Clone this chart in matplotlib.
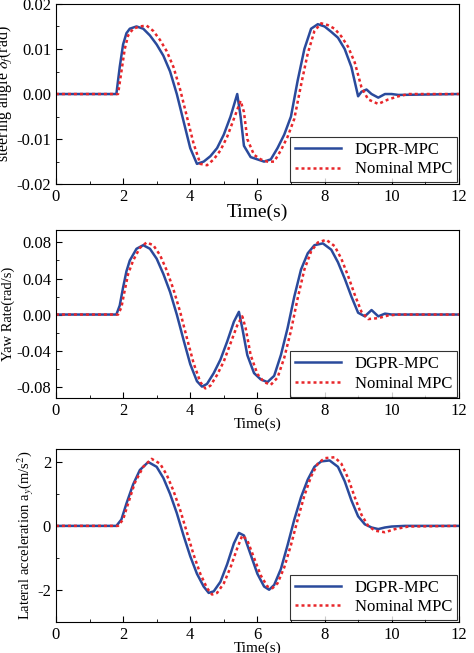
import matplotlib
matplotlib.use("Agg")
import matplotlib.pyplot as plt
from matplotlib.ticker import MultipleLocator

plt.rcParams['font.family'] = ['Liberation Serif', 'DejaVu Serif']
plt.rcParams['mathtext.fontset'] = 'stix'

BLUE = "#2a4a9c"
RED = "#e8262a"

# steering angle (rad)
t1_d = [0, 1.8, 1.9, 2.0, 2.1, 2.2, 2.4, 2.6, 2.8, 3.0, 3.2, 3.4, 3.6, 3.8, 4.0, 4.2, 4.4, 4.6, 4.8, 5.0,
        5.2, 5.4, 5.5, 5.6, 5.8, 6.0, 6.2, 6.4, 6.6, 6.8, 7.0, 7.2, 7.4, 7.6, 7.8, 8.0, 8.2, 8.4, 8.6,
        8.8, 9.0, 9.1, 9.25, 9.4, 9.6, 9.8, 10.0, 10.2, 12]
s_d = [0, 0, 0.006, 0.011, 0.0135, 0.0145, 0.015, 0.0145, 0.013, 0.011, 0.0085, 0.005, 0.0, -0.006,
       -0.012, -0.0155, -0.015, -0.0138, -0.012, -0.009, -0.005, 0.0, -0.005, -0.0115, -0.014, -0.0145,
       -0.015, -0.0145, -0.012, -0.009, -0.005, 0.003, 0.010, 0.0145, 0.0155, 0.015, 0.0138, 0.0125,
       0.010, 0.006, -0.0005, 0.0005, 0.001, 0.0, -0.0008, 0.0, 0.0, -0.0002, 0]
t1_n = [0, 1.85, 1.95, 2.05, 2.15, 2.3, 2.5, 2.7, 2.9, 3.1, 3.3, 3.5, 3.7, 3.9, 4.1, 4.3, 4.5, 4.7, 4.9,
        5.1, 5.3, 5.5, 5.6, 5.7, 5.9, 6.1, 6.3, 6.5, 6.7, 6.9, 7.1, 7.3, 7.5, 7.7, 7.9, 8.1, 8.3, 8.5,
        8.7, 8.9, 9.1, 9.3, 9.6, 9.9, 10.2, 10.5, 12]
s_n = [0, 0, 0.005, 0.010, 0.013, 0.0145, 0.015, 0.0152, 0.014, 0.012, 0.0095, 0.006, 0.001, -0.005,
       -0.011, -0.0155, -0.0158, -0.0145, -0.0125, -0.0095, -0.0055, -0.0015, -0.004, -0.010, -0.0135,
       -0.0145, -0.015, -0.015, -0.0125, -0.0095, -0.0055, 0.002, 0.009, 0.014, 0.0157, 0.0153, 0.0145,
       0.0128, 0.0105, 0.007, 0.0015, -0.0012, -0.0022, -0.0012, -0.0005, 0.0, 0]

# yaw rate (rad/s)
t2_d = [0, 1.8, 1.9, 2.0, 2.1, 2.2, 2.4, 2.6, 2.8, 3.0, 3.2, 3.4, 3.6, 3.8, 4.0, 4.2, 4.35, 4.5, 4.7,
        4.9, 5.1, 5.3, 5.45, 5.55, 5.7, 5.9, 6.1, 6.3, 6.5, 6.7, 6.9, 7.1, 7.3, 7.5, 7.7, 7.95, 8.2, 8.4,
        8.6, 8.8, 9.0, 9.2, 9.4, 9.6, 9.8, 10.0, 10.3, 12]
y_d = [0, 0, 0.01, 0.03, 0.048, 0.06, 0.073, 0.077, 0.073, 0.062, 0.045, 0.025, 0.0, -0.028, -0.055,
       -0.074, -0.08, -0.077, -0.065, -0.05, -0.03, -0.008, 0.003, -0.015, -0.045, -0.065, -0.072,
       -0.075, -0.068, -0.045, -0.015, 0.02, 0.05, 0.068, 0.077, 0.079, 0.072, 0.058, 0.04, 0.02,
       0.002, -0.002, 0.005, -0.002, 0.001, 0.0, 0.0, 0]
t2_n = [0, 1.85, 1.95, 2.05, 2.15, 2.3, 2.5, 2.7, 2.9, 3.1, 3.3, 3.5, 3.7, 3.9, 4.1, 4.3, 4.45, 4.6,
        4.8, 5.0, 5.2, 5.4, 5.55, 5.65, 5.8, 6.0, 6.2, 6.4, 6.6, 6.8, 7.0, 7.2, 7.4, 7.6, 7.8, 8.05, 8.3,
        8.5, 8.7, 8.9, 9.1, 9.3, 9.6, 9.9, 10.2, 12]
y_n = [0, 0, 0.008, 0.027, 0.045, 0.06, 0.074, 0.08, 0.077, 0.066, 0.049, 0.028, 0.003, -0.026,
       -0.054, -0.075, -0.082, -0.079, -0.067, -0.052, -0.032, -0.012, -0.002, -0.015, -0.045, -0.066,
       -0.075, -0.078, -0.07, -0.048, -0.018, 0.018, 0.05, 0.07, 0.08, 0.083, 0.076, 0.062, 0.043, 0.022,
       0.003, -0.005, -0.004, -0.001, 0.0, 0]

# lateral acceleration (m/s^2)
t3_d = [0, 1.8, 1.95, 2.1, 2.3, 2.5, 2.75, 3.0, 3.2, 3.4, 3.6, 3.8, 4.0, 4.2, 4.4, 4.55, 4.7, 4.9,
        5.1, 5.3, 5.45, 5.6, 5.8, 6.0, 6.2, 6.35, 6.5, 6.7, 6.9, 7.1, 7.3, 7.5, 7.7, 7.9, 8.15, 8.4,
        8.6, 8.8, 9.0, 9.2, 9.4, 9.6, 9.8, 10.0, 10.4, 12]
a_d = [0, 0, 0.2, 0.7, 1.3, 1.75, 2.0, 1.85, 1.5, 1.0, 0.4, -0.3, -0.95, -1.5, -1.9, -2.1, -2.05,
       -1.75, -1.2, -0.55, -0.22, -0.3, -0.9, -1.5, -1.9, -2.0, -1.85, -1.35, -0.6, 0.2, 0.9, 1.45,
       1.85, 2.02, 2.05, 1.85, 1.4, 0.8, 0.3, 0.05, -0.05, -0.1, -0.05, -0.02, 0.0, 0]
t3_n = [0, 1.85, 2.0, 2.15, 2.35, 2.6, 2.85, 3.1, 3.3, 3.5, 3.7, 3.9, 4.1, 4.3, 4.5, 4.65, 4.8, 5.0,
        5.2, 5.4, 5.55, 5.7, 5.9, 6.1, 6.3, 6.45, 6.6, 6.8, 7.0, 7.2, 7.4, 7.6, 7.8, 8.0, 8.3, 8.5,
        8.7, 8.9, 9.1, 9.3, 9.5, 9.8, 10.1, 10.5, 12]
a_n = [0, 0, 0.2, 0.7, 1.35, 1.85, 2.1, 1.95, 1.6, 1.1, 0.5, -0.2, -0.9, -1.5, -1.95, -2.15, -2.1,
       -1.8, -1.3, -0.7, -0.3, -0.45, -1.0, -1.55, -1.9, -1.95, -1.8, -1.3, -0.6, 0.2, 0.95, 1.55,
       1.95, 2.12, 2.15, 1.95, 1.5, 0.9, 0.35, 0.0, -0.15, -0.2, -0.1, -0.02, 0]

fig = plt.figure(figsize=(4.74, 6.53), dpi=100)
L, W = 0.118, 0.85
ax1 = fig.add_axes([L, 0.718, W, 0.276])
ax2 = fig.add_axes([L, 0.390, W, 0.258])
ax3 = fig.add_axes([L, 0.048, W, 0.264])

panels = [
    (ax1, t1_d, s_d, t1_n, s_n, (-0.02, 0.02), 0.01, "%.2f", r"steering angle $\delta_f$(rad)", 14, 11.5),
    (ax2, t2_d, y_d, t2_n, y_n, (-0.093, 0.094), 0.04, "%.2f", "Yaw Rate(rad/s)", 11, 10.5),
    (ax3, t3_d, a_d, t3_n, a_n, (-3.0, 2.4), 2, "%d", r"Lateral acceleration a$_y$(m/s$^2$)", 11, 10.5),
]
for ax, td, vd, tn, vn, yl, step, fmt, ylab, xfs, yfs in panels:
    ax.plot(td, vd, color=BLUE, lw=1.8, label="DGPR-MPC")
    ax.plot(tn, vn, color=RED, lw=1.8, ls=(0, (1.2, 1.2)), label="Nominal MPC")
    ax.set_xlim(0, 12)
    ax.set_ylim(*yl)
    ax.xaxis.set_major_locator(MultipleLocator(2))
    ax.xaxis.set_minor_locator(MultipleLocator(1))
    ax.yaxis.set_major_locator(MultipleLocator(step))
    ax.yaxis.set_minor_locator(MultipleLocator(step / 2))
    ax.yaxis.set_major_formatter(matplotlib.ticker.FormatStrFormatter(fmt))
    ax.tick_params(which="both", direction="in", labelsize=12)
    ax.tick_params(which="major", length=4)
    ax.tick_params(which="minor", length=2)
    ax.set_xlabel("Time(s)", fontsize=xfs, labelpad=-1)
    ax.set_ylabel(ylab, fontsize=yfs, labelpad=1)
    leg = ax.legend(loc="lower right", fontsize=12, frameon=True, fancybox=False,
                    edgecolor="black", borderaxespad=0.1, handlelength=2.8, borderpad=0.3,
                    labelspacing=0.2)
    leg.get_frame().set_linewidth(0.8)

fig.savefig("out.png", dpi=100)
